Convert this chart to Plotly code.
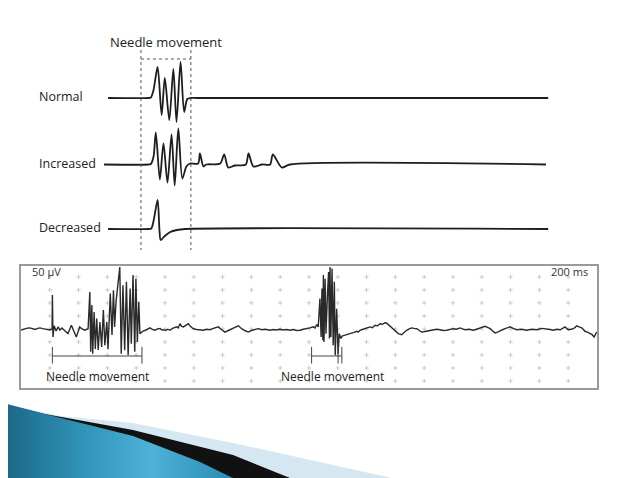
"""
EMG insertional activity slide: schematic traces (top) and a recorded trace (bottom).
"""

import plotly.graph_objects as go

# page body has an 8px margin, so the figure is shrunk to fit the 638x478 window
PAGE_W, PAGE_H, BODY = 638, 478, 8
W, H = PAGE_W - BODY, PAGE_H - BODY
FONT = "Open Sans"


def px(x):
    return (x - BODY) / W


def py(y):
    return 1 - (y - BODY) / H


# ----------------------------------------------------------------------------
# Top: schematic waveforms (time in ms, amplitude in arbitrary units)
# ----------------------------------------------------------------------------
normal_t = [1.8, 10.8, 11.3, 11.9, 12.8, 13.7, 14.4, 15.4, 16.3, 17.0, 17.9, 18.7, 19.4, 20.2, 21.5, 99.6]
normal_a = [0, 0, 0.5, 8, 31, -17, 20, -22, 29, -24, 36, -14, -1, 0, 0, 0]

increased_t = [0.9, 10.8, 11.3, 11.9, 12.4, 13.3, 14.1, 15.0, 15.9, 16.6, 17.4, 18.3, 19.2, 20.0,
               21.8, 22.2, 23.0, 23.6, 26.7, 27.6, 28.5, 30.0, 32.4, 33.0, 34.1, 36.0,
               37.8, 38.4, 40.4, 42.2, 99.1]
increased_a = [0, 0, 0.5, 8, 32, -15, 21, -18, 30, -21, 36, -14, -2, 1,
               1, 11, -2, 0, 1, 10, -3, -1, 0, 11, -2, 0,
               0, 10, -3, 0, 0]

decreased_t = [1.8, 10.8, 11.4, 11.9, 12.8, 13.2, 13.5, 14.4, 15.6, 17.1, 18.9, 99.6]
decreased_a = [0, 0, 0.5, 8, 29, 0, -11, -7, -3, -1, 0, 0]

row_names = ["Normal", "Increased", "Decreased"]
row_offsets = [0, -66.5, -131]
needle_window = [9.1, 20.2]   # ms

# ----------------------------------------------------------------------------
# Bottom: recorded trace (ms, µV)
# ----------------------------------------------------------------------------
emg_ms = [0, 0.7, 1.4, 2.2, 3.1, 4.0, 4.9, 5.8, 6.6, 7.5, 8.3, 9.2, 10.1,
          10.8, 10.9, 11.1, 11.5, 12.2, 12.9, 13.5, 14.2, 15.3, 16.3, 17.5, 18.2, 19.2, 20.4, 21.2, 22.1, 23.3,
          23.9, 24.2, 24.6, 24.9, 25.4, 25.8, 26.3, 26.8, 27.4, 28.0, 28.6, 29.1, 29.8, 30.2, 31.0, 31.6,
          32.1, 32.5, 33.0, 34.3, 34.8, 35.4, 36.0, 36.6, 37.2, 37.9, 38.3, 38.9, 39.5, 39.9, 40.4, 40.9,
          41.3, 41.8, 42.4,
          43.4, 44.2, 44.8, 45.6, 46.5, 47.4, 48.3, 48.8, 49.3, 50.4, 51.0, 51.7, 52.6, 53.3, 54.1, 54.6,
          55.2, 55.8, 56.4, 57.2, 58.1, 58.9, 59.8, 61.0, 62.2, 63.3, 64.4, 65.6, 66.8, 67.7, 68.5, 69.6,
          70.8, 72.0, 73.2, 74.3, 75.5, 76.0, 76.6, 77.7, 78.9, 80.0, 81.2, 82.4, 83.6, 84.8, 86.5, 87.6,
          88.7, 89.9, 91.0, 92.2, 93.4, 94.6, 95.7, 96.9, 98.0, 99.2, 100.3, 101.5, 102.1, 102.7, 103.2,
          103.8, 104.2, 104.5, 104.8, 105.0, 105.2, 105.6, 105.9, 106.4, 106.8, 107.1, 107.3, 107.6, 108.0,
          108.4, 108.8, 109.1, 109.6, 110.1, 110.5, 111.1, 111.5,
          112.5, 113.3, 114.2, 115.4, 116.6, 117.1, 117.7, 118.5, 119.4, 120.3, 121.2, 122.0, 122.9, 123.8,
          124.7, 125.5, 126.4, 127.0, 127.5, 128.4, 129.3, 130.1, 131.0, 131.6, 132.2, 133.0, 133.9, 134.8,
          135.7, 136.5, 137.4, 138.2, 139.1, 140.2, 141.4, 142.3, 143.2, 144.3, 145.5, 146.6, 147.8, 149.0,
          150.1, 151.2, 152.4, 153.3, 154.2, 155.6, 157.1, 158.2, 159.4, 160.2, 161.1, 162.0, 162.9, 163.8,
          164.6, 165.5, 166.3, 167.2, 168.1, 169.0, 169.8, 170.9, 172.1, 173.8, 175.6, 177.3, 179.1, 180.8,
          182.5, 183.7, 184.8, 186.0, 187.2, 188.1, 188.9, 189.5, 190.0, 191.0, 191.8, 192.4, 193.0, 193.8,
          194.7, 195.3, 195.8, 196.7, 197.6, 198.3, 199.0, 199.9]
emg_uv = [-4, -1, 0, 3, 4, 0, -2, 2, 4, 1, 0, -3, -4,
          0, 130, -31, 12, -8, 8, -4, 4, -8, -18, 14, -4, -31, 8, 0, -5, 1,
          142, -88, 92, -95, 65, -77, 40, -81, 27, -69, 73, -63, 27, -78, 136, -23,
          149, 8, 104, 238, -95, 168, -82, 181, -101, 155, -57, 207, -88, 193, -50, 104,
          -18, -12, -8,
          -4, 2, 4, -2, -5, 0, 2, -3, -4, -5, -1, -5, 2, 6, 8, 4,
          20, 10, 8, 14, 20, 9, 1, -2, -4, -5, -1, -3, 2, 5, 8, -2,
          -12, -6, -1, 6, 12, 5, 1, -6, -12, -6, -1, 1, -3, -1, -5, -2,
          -4, -1, -4, -2, -5, -2, -6, -5, -1, 1, 4, 8, 4, 17, 8,
          117, -31, 155, -43, 207, -50, 193, -18, 130, 219, -37, 238, -31, 232,
          -63, 181, -101, 78, -95, -18, -37, -27,
          -24, -20, -18, -14, -9, -12, -5, -2, 1, 6, 8, 5, 14, 12,
          20, 18, 24, 22, 17, 8, 1, -8, -18, -20, -22, -14, -5, 0,
          4, 2, 1, -5, -12, -10, -8, -4, -5, -1, -3, -6, -5, -2,
          1, -1, 4, 0, -3, -1, -5, -1, 4, 6, 10, 6, 1, -8,
          -15, -12, -9, -3, 1, 4, 8, 2, -3, -1, -5, -1, -3, 2,
          1, -2, -5, -1, -3, 3, 8, 2, -3, -1, 1, 6, 12, 8,
          4, -2, -9, -12, -18, -22, -31, -12]

grid_ms = [10 * k for k in range(1, 20)]
grid_uv = [50 * k for k in range(-4, 5)]

# needle movement brackets: (start, end, extra tick) in ms
brackets = [(10.9, 42.0, None), (100.9, 111.4, 110.1)]
bracket_labels = [26.4, 108.3]

fig = go.Figure()

# --- slide decoration (bottom-left swoosh) on its own full-page axes, window pixels
swoosh = [
    ("#d5e8f1", None, [(0, 403), (60, 416), (133, 423), (233, 443), (333, 465), (392, 478), (0, 478)]),
    ("#111111", None, [(0, 403), (45, 414), (133, 430), (233, 455), (290, 478), (0, 478)]),
    (None, [[0, "#1a6482"], [0.35, "#2f93b8"], [0.65, "#4db2d6"], [1, "#2a8cb2"]],
     [(0, 402), (45, 414), (133, 436), (200, 462), (233, 478), (0, 478)]),
]
for color, scale, pts in swoosh:
    xs = [p[0] for p in pts] + [pts[0][0]]
    ys = [p[1] for p in pts] + [pts[0][1]]
    kw = dict(fillcolor=color) if color else dict(
        fillgradient=dict(type="horizontal", colorscale=scale))
    fig.add_trace(go.Scatter(x=xs, y=ys, mode="lines", fill="toself", line=dict(width=0),
                             xaxis="x3", yaxis="y3", showlegend=False, hoverinfo="skip", **kw))

# --- top schematic traces
for name, t, a, off in zip(row_names, [normal_t, increased_t, decreased_t],
                           [normal_a, increased_a, decreased_a], row_offsets):
    fig.add_trace(go.Scatter(
        x=t, y=[v + off for v in a], mode="lines", name=name,
        line=dict(color="#1e1e1e", width=1.8, shape="spline", smoothing=0.8),
        xaxis="x", yaxis="y", showlegend=False, hoverinfo="skip",
    ))

# --- bottom grid dots
gx, gy = [], []
for yv in grid_uv:
    for xv in grid_ms:
        gx.append(xv)
        gy.append(yv)
fig.add_trace(go.Scatter(
    x=gx, y=gy, mode="markers", xaxis="x2", yaxis="y2", showlegend=False, hoverinfo="skip",
    marker=dict(symbol="cross-thin", size=3, line=dict(color="#c8c8c8", width=1)),
))

# --- bottom recorded trace
fig.add_trace(go.Scatter(
    x=emg_ms, y=emg_uv, mode="lines", xaxis="x2", yaxis="y2", showlegend=False, hoverinfo="skip",
    line=dict(color="#2a2a2a", width=1.4),
))

shapes = []

# dotted needle window box (top)
for xv in needle_window:
    shapes.append(dict(type="line", xref="x", yref="y", x0=xv, x1=xv, y0=48, y1=-152,
                       line=dict(color="#555", width=1, dash="dot")))
shapes.append(dict(type="line", xref="x", yref="y", x0=needle_window[0], x1=needle_window[1],
                   y0=39, y1=39, line=dict(color="#555", width=1, dash="dot")))

# brackets (bottom)
for x0, x1, extra in brackets:
    shapes.append(dict(type="line", xref="x2", yref="y2", x0=x0, x1=x1, y0=-104, y1=-104,
                       line=dict(color="#444", width=1)))
    for xv in [x0, x1] + ([extra] if extra else []):
        shapes.append(dict(type="line", xref="x2", yref="y2", x0=xv, x1=xv, y0=-69, y1=-133,
                           line=dict(color="#444", width=1)))

annotations = [
    dict(text="Needle movement", xref="x", yref="y", x=14.7, y=56, showarrow=False,
         font=dict(size=13, color="#222")),
]
for name, off in zip(row_names, row_offsets):
    annotations.append(dict(text=name, xref="paper", yref="y", x=px(37), y=off + 1, xanchor="left",
                            showarrow=False, font=dict(size=12.5, color="#222")))
for xl in bracket_labels:
    annotations.append(dict(text="Needle movement", xref="x2", yref="y2", x=xl, y=-181,
                            showarrow=False, font=dict(size=12, color="#222")))
annotations += [
    dict(text="50 µV", xref="x2", yref="y2", x=3.0, y=219, xanchor="left", showarrow=False,
         font=dict(size=11, color="#333")),
    dict(text="200 ms", xref="x2", yref="y2", x=197.6, y=219, xanchor="right", showarrow=False,
         font=dict(size=11, color="#333")),
]

fig.update_layout(
    width=W, height=H,
    margin=dict(l=0, r=0, t=0, b=0),
    paper_bgcolor="white", plot_bgcolor="rgba(0,0,0,0)",
    font=dict(family=FONT),
    showlegend=False,
    shapes=shapes,
    annotations=annotations,
    # top: t = (window_x - 100) / 4.5
    xaxis=dict(domain=[0, 1], range=[(BODY - 100) / 4.5, (PAGE_W - 100) / 4.5], visible=False,
               fixedrange=True),
    yaxis=dict(domain=[py(255), py(30)], range=[-157, 68], visible=False, fixedrange=True),
    xaxis2=dict(domain=[px(21), px(597)], range=[0, 200], anchor="y2", showgrid=False, zeroline=False,
                showticklabels=False, ticks="", showline=True, mirror=True, linecolor="#9a9a9a",
                linewidth=1.5),
    yaxis2=dict(domain=[py(388), py(266)], range=[-227, 242], anchor="x2", showgrid=False,
                zeroline=False, showticklabels=False, ticks="", showline=True, mirror=True,
                linecolor="#9a9a9a", linewidth=1.5),
    xaxis3=dict(domain=[0, 1], range=[BODY, PAGE_W], anchor="y3", visible=False, fixedrange=True),
    yaxis3=dict(domain=[0, 1], range=[PAGE_H, BODY], anchor="x3", visible=False, fixedrange=True),
)

fig.write_html("out.html")
